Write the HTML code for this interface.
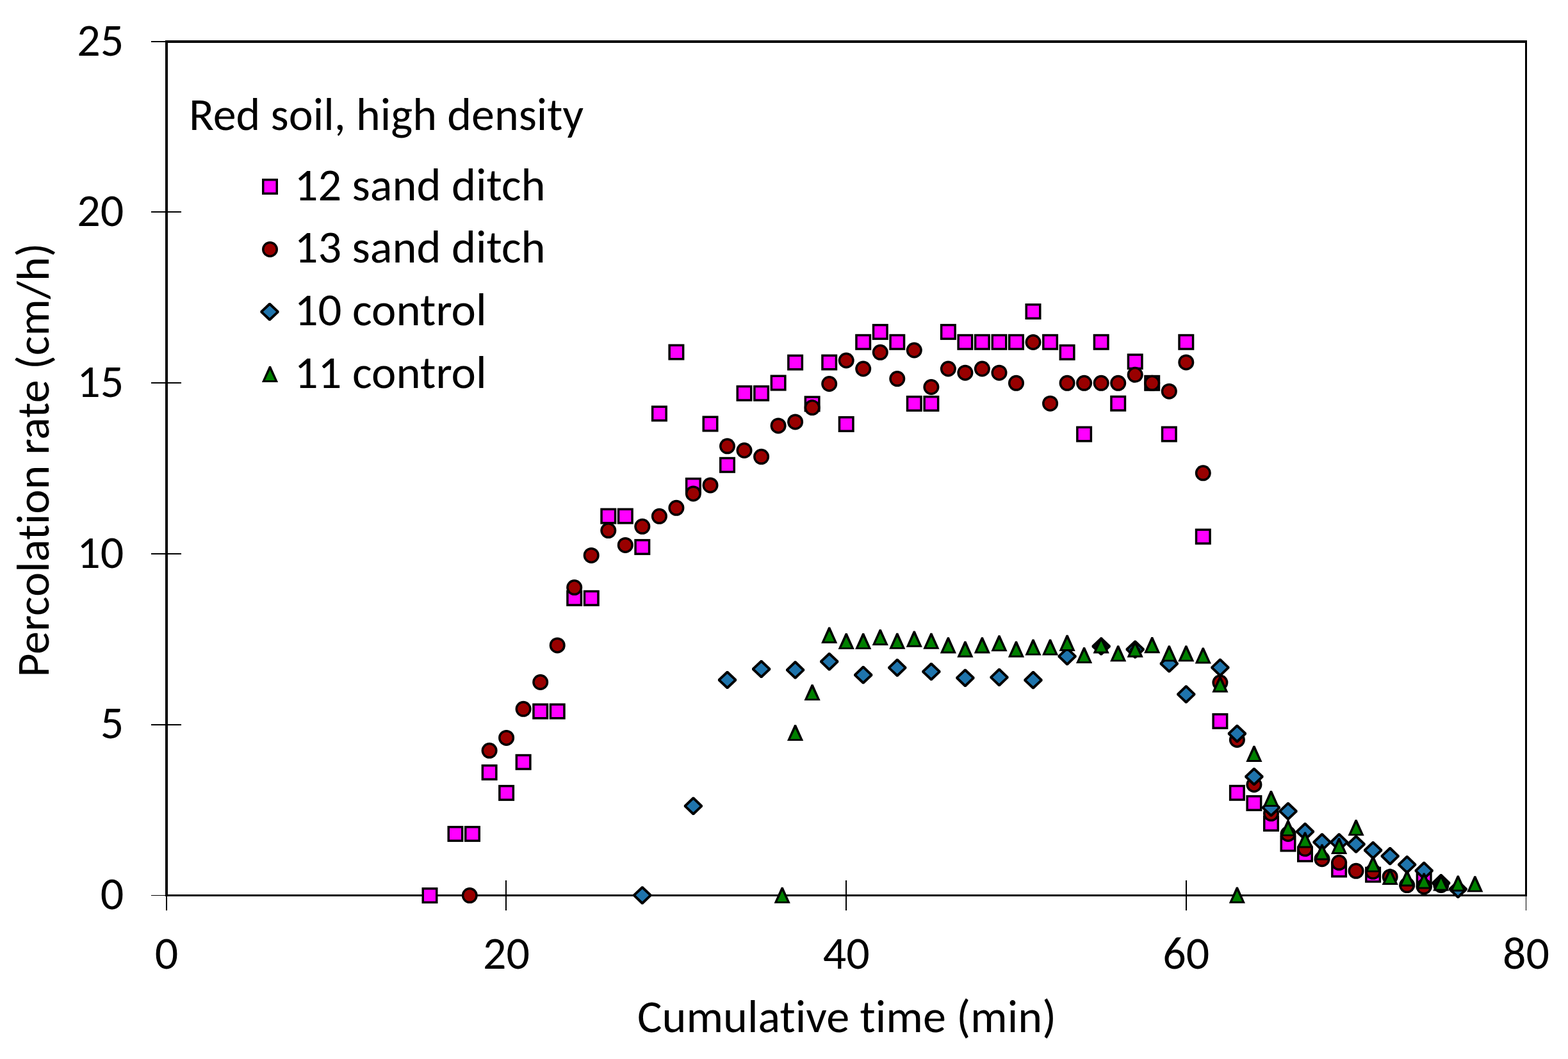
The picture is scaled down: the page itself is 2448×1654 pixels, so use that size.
<!DOCTYPE html>
<html><head><meta charset="utf-8"><title>Percolation rate chart</title>
<style>html,body{margin:0;padding:0;background:#fff;overflow:hidden;}svg{display:block;}
text{font-family:Carlito, 'Liberation Sans', sans-serif;fill:#000;font-variant-ligatures:none;font-feature-settings:"liga" 0,"clig" 0;font-kerning:normal;font-size-adjust:0.4775;}</style></head><body>
<svg width="2448" height="1654" viewBox="0 0 2448 1654">
<rect x="0" y="0" width="2448" height="1654" fill="#fff"/>
<g shape-rendering="crispEdges">
<rect x="258" y="63" width="2126" height="4" fill="#000"/>
<rect x="258" y="63" width="4" height="1337" fill="#000"/>
<rect x="2381" y="63" width="3" height="1337" fill="#000"/>
<rect x="258" y="1397" width="2126" height="3" fill="#000"/>
<rect x="236" y="64" width="47" height="2" fill="#000"/>
<rect x="236" y="330" width="47" height="2" fill="#000"/>
<rect x="236" y="597" width="47" height="2" fill="#000"/>
<rect x="236" y="864" width="47" height="2" fill="#000"/>
<rect x="236" y="1131" width="47" height="2" fill="#000"/>
<rect x="236" y="1398" width="47" height="1" fill="#000"/>
<rect x="259" y="1375" width="2" height="47" fill="#000"/>
<rect x="789" y="1375" width="2" height="47" fill="#000"/>
<rect x="1320" y="1375" width="2" height="47" fill="#000"/>
<rect x="1851" y="1375" width="2" height="47" fill="#000"/>
<rect x="2382" y="1375" width="1" height="47" fill="#000"/>
</g>
<text id="legtitle" x="294.90" y="202.90" font-size="72" textLength="616.16" lengthAdjust="spacingAndGlyphs">Red soil, high density</text>
<text id="l12" x="459.76" y="312.80" font-size="72" textLength="391.89" lengthAdjust="spacingAndGlyphs">12 sand ditch</text>
<text id="l13" x="459.76" y="410.10" font-size="72" textLength="391.89" lengthAdjust="spacingAndGlyphs">13 sand ditch</text>
<text id="l10" x="459.72" y="507.80" font-size="72" textLength="299.96" lengthAdjust="spacingAndGlyphs">10 control</text>
<text id="l11" x="459.72" y="605.80" font-size="72" textLength="299.96" lengthAdjust="spacingAndGlyphs">11 control</text>
<text id="xtitle" x="994.99" y="1612.20" font-size="72" textLength="654.15" lengthAdjust="spacingAndGlyphs">Cumulative time (min)</text>
<text id="ytitle" transform="translate(75.90,1057.82) rotate(-90)" x="0" y="0" font-size="72" textLength="678.55" lengthAdjust="spacingAndGlyphs">Percolation rate (cm/h)</text>
<text id="y0" x="193.20" y="1420.10" font-size="72" text-anchor="end" textLength="36.49" lengthAdjust="spacingAndGlyphs">0</text>
<text id="y5" x="193.20" y="1153.40" font-size="72" text-anchor="end" textLength="36.49" lengthAdjust="spacingAndGlyphs">5</text>
<text id="y10" x="193.20" y="886.70" font-size="72" text-anchor="end" textLength="72.98" lengthAdjust="spacingAndGlyphs">10</text>
<text id="y15" x="193.20" y="620.00" font-size="72" text-anchor="end" textLength="72.98" lengthAdjust="spacingAndGlyphs">15</text>
<text id="y20" x="193.20" y="353.30" font-size="72" text-anchor="end" textLength="72.98" lengthAdjust="spacingAndGlyphs">20</text>
<text id="y25" x="193.20" y="86.60" font-size="72" text-anchor="end" textLength="72.98" lengthAdjust="spacingAndGlyphs">25</text>
<text id="x0" x="260.00" y="1513.30" font-size="72" text-anchor="middle" textLength="36.49" lengthAdjust="spacingAndGlyphs">0</text>
<text id="x20" x="790.60" y="1513.30" font-size="72" text-anchor="middle" textLength="72.98" lengthAdjust="spacingAndGlyphs">20</text>
<text id="x40" x="1321.20" y="1513.30" font-size="72" text-anchor="middle" textLength="72.98" lengthAdjust="spacingAndGlyphs">40</text>
<text id="x60" x="1851.80" y="1513.30" font-size="72" text-anchor="middle" textLength="72.98" lengthAdjust="spacingAndGlyphs">60</text>
<text id="x80" x="2382.40" y="1513.30" font-size="72" text-anchor="middle" textLength="72.98" lengthAdjust="spacingAndGlyphs">80</text>
<rect x="409.0" y="279.0" width="25" height="25" fill="#000"/><rect x="412.5" y="282.5" width="18" height="18" fill="#ff00ff"/>
<circle cx="421.5" cy="389.5" r="12.5" fill="#000"/><circle cx="421.5" cy="389.5" r="9" fill="#990000"/>
<path d="M419.8 472.9L422.2 472.9L435.6 485.8L435.6 488.2L422.2 501.1L419.8 501.1L406.4 488.2L406.4 485.8Z" fill="#000"/><path d="M421.0 477.4L431.2 487.0L421.0 496.6L410.8 487.0Z" fill="#1f74ac"/>
<path d="M420.1 571.9L422.9 571.9L434.1 597.0L408.9 597.0Z" fill="#000"/><path d="M421.5 577.8L429.2 594.1L413.8 594.1Z" fill="#008000"/>
<rect x="658.5" y="1386.1" width="25" height="25" fill="#000"/><rect x="662.0" y="1389.6" width="18" height="18" fill="#ff00ff"/>
<rect x="698.5" y="1289.9" width="25" height="25" fill="#000"/><rect x="702.0" y="1293.4" width="18" height="18" fill="#ff00ff"/>
<rect x="725.0" y="1289.9" width="25" height="25" fill="#000"/><rect x="728.5" y="1293.4" width="18" height="18" fill="#ff00ff"/>
<rect x="751.6" y="1193.9" width="25" height="25" fill="#000"/><rect x="755.1" y="1197.4" width="18" height="18" fill="#ff00ff"/>
<rect x="778.1" y="1225.9" width="25" height="25" fill="#000"/><rect x="781.6" y="1229.4" width="18" height="18" fill="#ff00ff"/>
<rect x="804.6" y="1177.8" width="25" height="25" fill="#000"/><rect x="808.1" y="1181.3" width="18" height="18" fill="#ff00ff"/>
<rect x="831.2" y="1098.5" width="25" height="25" fill="#000"/><rect x="834.7" y="1102.0" width="18" height="18" fill="#ff00ff"/>
<rect x="857.7" y="1098.5" width="25" height="25" fill="#000"/><rect x="861.2" y="1102.0" width="18" height="18" fill="#ff00ff"/>
<rect x="884.2" y="921.8" width="25" height="25" fill="#000"/><rect x="887.7" y="925.3" width="18" height="18" fill="#ff00ff"/>
<rect x="910.8" y="921.8" width="25" height="25" fill="#000"/><rect x="914.2" y="925.3" width="18" height="18" fill="#ff00ff"/>
<rect x="937.3" y="793.6" width="25" height="25" fill="#000"/><rect x="940.8" y="797.1" width="18" height="18" fill="#ff00ff"/>
<rect x="963.8" y="793.6" width="25" height="25" fill="#000"/><rect x="967.3" y="797.1" width="18" height="18" fill="#ff00ff"/>
<rect x="990.3" y="841.9" width="25" height="25" fill="#000"/><rect x="993.8" y="845.4" width="18" height="18" fill="#ff00ff"/>
<rect x="1016.9" y="633.5" width="25" height="25" fill="#000"/><rect x="1020.4" y="637.0" width="18" height="18" fill="#ff00ff"/>
<rect x="1043.4" y="537.5" width="25" height="25" fill="#000"/><rect x="1046.9" y="541.0" width="18" height="18" fill="#ff00ff"/>
<rect x="1069.9" y="745.9" width="25" height="25" fill="#000"/><rect x="1073.4" y="749.4" width="18" height="18" fill="#ff00ff"/>
<rect x="1096.5" y="649.5" width="25" height="25" fill="#000"/><rect x="1100.0" y="653.0" width="18" height="18" fill="#ff00ff"/>
<rect x="1123.0" y="713.8" width="25" height="25" fill="#000"/><rect x="1126.5" y="717.3" width="18" height="18" fill="#ff00ff"/>
<rect x="1149.5" y="601.8" width="25" height="25" fill="#000"/><rect x="1153.0" y="605.3" width="18" height="18" fill="#ff00ff"/>
<rect x="1176.1" y="601.8" width="25" height="25" fill="#000"/><rect x="1179.6" y="605.3" width="18" height="18" fill="#ff00ff"/>
<rect x="1202.6" y="585.5" width="25" height="25" fill="#000"/><rect x="1206.1" y="589.0" width="18" height="18" fill="#ff00ff"/>
<rect x="1229.1" y="553.6" width="25" height="25" fill="#000"/><rect x="1232.6" y="557.1" width="18" height="18" fill="#ff00ff"/>
<rect x="1255.6" y="618.3" width="25" height="25" fill="#000"/><rect x="1259.1" y="621.8" width="18" height="18" fill="#ff00ff"/>
<rect x="1282.2" y="553.5" width="25" height="25" fill="#000"/><rect x="1285.7" y="557.0" width="18" height="18" fill="#ff00ff"/>
<rect x="1308.7" y="650.0" width="25" height="25" fill="#000"/><rect x="1312.2" y="653.5" width="18" height="18" fill="#ff00ff"/>
<rect x="1335.2" y="521.8" width="25" height="25" fill="#000"/><rect x="1338.7" y="525.3" width="18" height="18" fill="#ff00ff"/>
<rect x="1361.8" y="505.9" width="25" height="25" fill="#000"/><rect x="1365.3" y="509.4" width="18" height="18" fill="#ff00ff"/>
<rect x="1388.3" y="521.8" width="25" height="25" fill="#000"/><rect x="1391.8" y="525.3" width="18" height="18" fill="#ff00ff"/>
<rect x="1414.8" y="617.9" width="25" height="25" fill="#000"/><rect x="1418.3" y="621.4" width="18" height="18" fill="#ff00ff"/>
<rect x="1441.4" y="617.9" width="25" height="25" fill="#000"/><rect x="1444.9" y="621.4" width="18" height="18" fill="#ff00ff"/>
<rect x="1467.9" y="505.9" width="25" height="25" fill="#000"/><rect x="1471.4" y="509.4" width="18" height="18" fill="#ff00ff"/>
<rect x="1494.4" y="521.8" width="25" height="25" fill="#000"/><rect x="1497.9" y="525.3" width="18" height="18" fill="#ff00ff"/>
<rect x="1520.9" y="521.8" width="25" height="25" fill="#000"/><rect x="1524.4" y="525.3" width="18" height="18" fill="#ff00ff"/>
<rect x="1547.5" y="521.8" width="25" height="25" fill="#000"/><rect x="1551.0" y="525.3" width="18" height="18" fill="#ff00ff"/>
<rect x="1574.0" y="521.8" width="25" height="25" fill="#000"/><rect x="1577.5" y="525.3" width="18" height="18" fill="#ff00ff"/>
<rect x="1600.5" y="474.0" width="25" height="25" fill="#000"/><rect x="1604.0" y="477.5" width="18" height="18" fill="#ff00ff"/>
<rect x="1627.1" y="521.8" width="25" height="25" fill="#000"/><rect x="1630.6" y="525.3" width="18" height="18" fill="#ff00ff"/>
<rect x="1653.6" y="537.8" width="25" height="25" fill="#000"/><rect x="1657.1" y="541.3" width="18" height="18" fill="#ff00ff"/>
<rect x="1680.1" y="665.6" width="25" height="25" fill="#000"/><rect x="1683.6" y="669.1" width="18" height="18" fill="#ff00ff"/>
<rect x="1706.7" y="521.8" width="25" height="25" fill="#000"/><rect x="1710.2" y="525.3" width="18" height="18" fill="#ff00ff"/>
<rect x="1733.2" y="617.7" width="25" height="25" fill="#000"/><rect x="1736.7" y="621.2" width="18" height="18" fill="#ff00ff"/>
<rect x="1759.7" y="552.3" width="25" height="25" fill="#000"/><rect x="1763.2" y="555.8" width="18" height="18" fill="#ff00ff"/>
<rect x="1786.2" y="585.8" width="25" height="25" fill="#000"/><rect x="1789.7" y="589.3" width="18" height="18" fill="#ff00ff"/>
<rect x="1812.8" y="665.6" width="25" height="25" fill="#000"/><rect x="1816.3" y="669.1" width="18" height="18" fill="#ff00ff"/>
<rect x="1839.3" y="521.8" width="25" height="25" fill="#000"/><rect x="1842.8" y="525.3" width="18" height="18" fill="#ff00ff"/>
<rect x="1865.8" y="825.6" width="25" height="25" fill="#000"/><rect x="1869.3" y="829.1" width="18" height="18" fill="#ff00ff"/>
<rect x="1892.4" y="1113.9" width="25" height="25" fill="#000"/><rect x="1895.9" y="1117.4" width="18" height="18" fill="#ff00ff"/>
<rect x="1918.9" y="1225.8" width="25" height="25" fill="#000"/><rect x="1922.4" y="1229.3" width="18" height="18" fill="#ff00ff"/>
<rect x="1945.4" y="1241.9" width="25" height="25" fill="#000"/><rect x="1948.9" y="1245.4" width="18" height="18" fill="#ff00ff"/>
<rect x="1972.0" y="1273.8" width="25" height="25" fill="#000"/><rect x="1975.5" y="1277.3" width="18" height="18" fill="#ff00ff"/>
<rect x="1998.5" y="1305.5" width="25" height="25" fill="#000"/><rect x="2002.0" y="1309.0" width="18" height="18" fill="#ff00ff"/>
<rect x="2025.0" y="1321.7" width="25" height="25" fill="#000"/><rect x="2028.5" y="1325.2" width="18" height="18" fill="#ff00ff"/>
<rect x="2078.1" y="1345.6" width="25" height="25" fill="#000"/><rect x="2081.6" y="1349.1" width="18" height="18" fill="#ff00ff"/>
<rect x="2131.1" y="1353.7" width="25" height="25" fill="#000"/><rect x="2134.6" y="1357.2" width="18" height="18" fill="#ff00ff"/>
<rect x="2210.7" y="1361.7" width="25" height="25" fill="#000"/><rect x="2214.2" y="1365.2" width="18" height="18" fill="#ff00ff"/>
<circle cx="733.3" cy="1398.6" r="12.5" fill="#000"/><circle cx="733.3" cy="1398.6" r="9" fill="#990000"/>
<circle cx="764.1" cy="1172.3" r="12.5" fill="#000"/><circle cx="764.1" cy="1172.3" r="9" fill="#990000"/>
<circle cx="790.6" cy="1152.4" r="12.5" fill="#000"/><circle cx="790.6" cy="1152.4" r="9" fill="#990000"/>
<circle cx="817.1" cy="1107.3" r="12.5" fill="#000"/><circle cx="817.1" cy="1107.3" r="9" fill="#990000"/>
<circle cx="843.7" cy="1065.5" r="12.5" fill="#000"/><circle cx="843.7" cy="1065.5" r="9" fill="#990000"/>
<circle cx="870.2" cy="1007.9" r="12.5" fill="#000"/><circle cx="870.2" cy="1007.9" r="9" fill="#990000"/>
<circle cx="896.7" cy="917.6" r="12.5" fill="#000"/><circle cx="896.7" cy="917.6" r="9" fill="#990000"/>
<circle cx="923.2" cy="867.4" r="12.5" fill="#000"/><circle cx="923.2" cy="867.4" r="9" fill="#990000"/>
<circle cx="949.8" cy="828.6" r="12.5" fill="#000"/><circle cx="949.8" cy="828.6" r="9" fill="#990000"/>
<circle cx="976.3" cy="851.4" r="12.5" fill="#000"/><circle cx="976.3" cy="851.4" r="9" fill="#990000"/>
<circle cx="1002.8" cy="822.3" r="12.5" fill="#000"/><circle cx="1002.8" cy="822.3" r="9" fill="#990000"/>
<circle cx="1029.4" cy="806.3" r="12.5" fill="#000"/><circle cx="1029.4" cy="806.3" r="9" fill="#990000"/>
<circle cx="1055.9" cy="793.3" r="12.5" fill="#000"/><circle cx="1055.9" cy="793.3" r="9" fill="#990000"/>
<circle cx="1082.4" cy="770.9" r="12.5" fill="#000"/><circle cx="1082.4" cy="770.9" r="9" fill="#990000"/>
<circle cx="1109.0" cy="757.9" r="12.5" fill="#000"/><circle cx="1109.0" cy="757.9" r="9" fill="#990000"/>
<circle cx="1135.5" cy="696.8" r="12.5" fill="#000"/><circle cx="1135.5" cy="696.8" r="9" fill="#990000"/>
<circle cx="1162.0" cy="703.5" r="12.5" fill="#000"/><circle cx="1162.0" cy="703.5" r="9" fill="#990000"/>
<circle cx="1188.6" cy="713.3" r="12.5" fill="#000"/><circle cx="1188.6" cy="713.3" r="9" fill="#990000"/>
<circle cx="1215.1" cy="664.9" r="12.5" fill="#000"/><circle cx="1215.1" cy="664.9" r="9" fill="#990000"/>
<circle cx="1241.6" cy="658.9" r="12.5" fill="#000"/><circle cx="1241.6" cy="658.9" r="9" fill="#990000"/>
<circle cx="1268.1" cy="636.6" r="12.5" fill="#000"/><circle cx="1268.1" cy="636.6" r="9" fill="#990000"/>
<circle cx="1294.7" cy="599.5" r="12.5" fill="#000"/><circle cx="1294.7" cy="599.5" r="9" fill="#990000"/>
<circle cx="1321.2" cy="563.0" r="12.5" fill="#000"/><circle cx="1321.2" cy="563.0" r="9" fill="#990000"/>
<circle cx="1347.7" cy="576.0" r="12.5" fill="#000"/><circle cx="1347.7" cy="576.0" r="9" fill="#990000"/>
<circle cx="1374.3" cy="550.3" r="12.5" fill="#000"/><circle cx="1374.3" cy="550.3" r="9" fill="#990000"/>
<circle cx="1400.8" cy="591.6" r="12.5" fill="#000"/><circle cx="1400.8" cy="591.6" r="9" fill="#990000"/>
<circle cx="1427.3" cy="547.0" r="12.5" fill="#000"/><circle cx="1427.3" cy="547.0" r="9" fill="#990000"/>
<circle cx="1453.9" cy="604.5" r="12.5" fill="#000"/><circle cx="1453.9" cy="604.5" r="9" fill="#990000"/>
<circle cx="1480.4" cy="576.0" r="12.5" fill="#000"/><circle cx="1480.4" cy="576.0" r="9" fill="#990000"/>
<circle cx="1506.9" cy="582.2" r="12.5" fill="#000"/><circle cx="1506.9" cy="582.2" r="9" fill="#990000"/>
<circle cx="1533.4" cy="576.0" r="12.5" fill="#000"/><circle cx="1533.4" cy="576.0" r="9" fill="#990000"/>
<circle cx="1560.0" cy="582.2" r="12.5" fill="#000"/><circle cx="1560.0" cy="582.2" r="9" fill="#990000"/>
<circle cx="1586.5" cy="598.3" r="12.5" fill="#000"/><circle cx="1586.5" cy="598.3" r="9" fill="#990000"/>
<circle cx="1613.0" cy="534.5" r="12.5" fill="#000"/><circle cx="1613.0" cy="534.5" r="9" fill="#990000"/>
<circle cx="1639.6" cy="630.2" r="12.5" fill="#000"/><circle cx="1639.6" cy="630.2" r="9" fill="#990000"/>
<circle cx="1666.1" cy="598.3" r="12.5" fill="#000"/><circle cx="1666.1" cy="598.3" r="9" fill="#990000"/>
<circle cx="1692.6" cy="598.3" r="12.5" fill="#000"/><circle cx="1692.6" cy="598.3" r="9" fill="#990000"/>
<circle cx="1719.2" cy="598.3" r="12.5" fill="#000"/><circle cx="1719.2" cy="598.3" r="9" fill="#990000"/>
<circle cx="1745.7" cy="598.3" r="12.5" fill="#000"/><circle cx="1745.7" cy="598.3" r="9" fill="#990000"/>
<circle cx="1772.2" cy="585.3" r="12.5" fill="#000"/><circle cx="1772.2" cy="585.3" r="9" fill="#990000"/>
<circle cx="1798.7" cy="598.3" r="12.5" fill="#000"/><circle cx="1798.7" cy="598.3" r="9" fill="#990000"/>
<circle cx="1825.3" cy="611.2" r="12.5" fill="#000"/><circle cx="1825.3" cy="611.2" r="9" fill="#990000"/>
<circle cx="1851.8" cy="565.9" r="12.5" fill="#000"/><circle cx="1851.8" cy="565.9" r="9" fill="#990000"/>
<circle cx="1878.3" cy="738.8" r="12.5" fill="#000"/><circle cx="1878.3" cy="738.8" r="9" fill="#990000"/>
<circle cx="1904.9" cy="1066.0" r="12.5" fill="#000"/><circle cx="1904.9" cy="1066.0" r="9" fill="#990000"/>
<circle cx="1931.4" cy="1155.5" r="12.5" fill="#000"/><circle cx="1931.4" cy="1155.5" r="9" fill="#990000"/>
<circle cx="1957.9" cy="1225.5" r="12.5" fill="#000"/><circle cx="1957.9" cy="1225.5" r="9" fill="#990000"/>
<circle cx="1984.5" cy="1270.6" r="12.5" fill="#000"/><circle cx="1984.5" cy="1270.6" r="9" fill="#990000"/>
<circle cx="2011.0" cy="1302.5" r="12.5" fill="#000"/><circle cx="2011.0" cy="1302.5" r="9" fill="#990000"/>
<circle cx="2037.5" cy="1325.6" r="12.5" fill="#000"/><circle cx="2037.5" cy="1325.6" r="9" fill="#990000"/>
<circle cx="2064.0" cy="1341.7" r="12.5" fill="#000"/><circle cx="2064.0" cy="1341.7" r="9" fill="#990000"/>
<circle cx="2090.6" cy="1347.3" r="12.5" fill="#000"/><circle cx="2090.6" cy="1347.3" r="9" fill="#990000"/>
<circle cx="2117.1" cy="1360.3" r="12.5" fill="#000"/><circle cx="2117.1" cy="1360.3" r="9" fill="#990000"/>
<circle cx="2143.6" cy="1361.3" r="12.5" fill="#000"/><circle cx="2143.6" cy="1361.3" r="9" fill="#990000"/>
<circle cx="2170.2" cy="1369.4" r="12.5" fill="#000"/><circle cx="2170.2" cy="1369.4" r="9" fill="#990000"/>
<circle cx="2196.7" cy="1382.6" r="12.5" fill="#000"/><circle cx="2196.7" cy="1382.6" r="9" fill="#990000"/>
<circle cx="2223.2" cy="1384.8" r="12.5" fill="#000"/><circle cx="2223.2" cy="1384.8" r="9" fill="#990000"/>
<circle cx="2249.8" cy="1382.5" r="12.5" fill="#000"/><circle cx="2249.8" cy="1382.5" r="9" fill="#990000"/>
<path d="M1001.6 1384.2L1004.0 1384.2L1017.4 1397.1L1017.4 1399.5L1004.0 1412.4L1001.6 1412.4L988.2 1399.5L988.2 1397.1Z" fill="#000"/><path d="M1002.8 1388.7L1013.0 1398.3L1002.8 1407.9L992.6 1398.3Z" fill="#1f74ac"/>
<path d="M1081.2 1244.8L1083.6 1244.8L1097.0 1257.7L1097.0 1260.1L1083.6 1273.0L1081.2 1273.0L1067.8 1260.1L1067.8 1257.7Z" fill="#000"/><path d="M1082.4 1249.3L1092.6 1258.9L1082.4 1268.5L1072.2 1258.9Z" fill="#1f74ac"/>
<path d="M1134.3 1047.9L1136.7 1047.9L1150.1 1060.8L1150.1 1063.2L1136.7 1076.1L1134.3 1076.1L1120.9 1063.2L1120.9 1060.8Z" fill="#000"/><path d="M1135.5 1052.4L1145.7 1062.0L1135.5 1071.6L1125.3 1062.0Z" fill="#1f74ac"/>
<path d="M1187.4 1030.9L1189.8 1030.9L1203.2 1043.8L1203.2 1046.2L1189.8 1059.1L1187.4 1059.1L1174.0 1046.2L1174.0 1043.8Z" fill="#000"/><path d="M1188.6 1035.4L1198.8 1045.0L1188.6 1054.6L1178.4 1045.0Z" fill="#1f74ac"/>
<path d="M1240.4 1032.3L1242.8 1032.3L1256.2 1045.2L1256.2 1047.6L1242.8 1060.5L1240.4 1060.5L1227.0 1047.6L1227.0 1045.2Z" fill="#000"/><path d="M1241.6 1036.8L1251.8 1046.4L1241.6 1056.0L1231.4 1046.4Z" fill="#1f74ac"/>
<path d="M1293.5 1019.2L1295.9 1019.2L1309.3 1032.1L1309.3 1034.5L1295.9 1047.4L1293.5 1047.4L1280.1 1034.5L1280.1 1032.1Z" fill="#000"/><path d="M1294.7 1023.7L1304.9 1033.3L1294.7 1042.9L1284.5 1033.3Z" fill="#1f74ac"/>
<path d="M1346.5 1040.1L1348.9 1040.1L1362.3 1053.0L1362.3 1055.4L1348.9 1068.3L1346.5 1068.3L1333.1 1055.4L1333.1 1053.0Z" fill="#000"/><path d="M1347.7 1044.6L1357.9 1054.2L1347.7 1063.8L1337.5 1054.2Z" fill="#1f74ac"/>
<path d="M1399.6 1028.8L1402.0 1028.8L1415.4 1041.7L1415.4 1044.1L1402.0 1057.0L1399.6 1057.0L1386.2 1044.1L1386.2 1041.7Z" fill="#000"/><path d="M1400.8 1033.3L1411.0 1042.9L1400.8 1052.5L1390.6 1042.9Z" fill="#1f74ac"/>
<path d="M1452.7 1034.9L1455.1 1034.9L1468.5 1047.8L1468.5 1050.2L1455.1 1063.1L1452.7 1063.1L1439.3 1050.2L1439.3 1047.8Z" fill="#000"/><path d="M1453.9 1039.4L1464.1 1049.0L1453.9 1058.6L1443.7 1049.0Z" fill="#1f74ac"/>
<path d="M1505.7 1044.7L1508.1 1044.7L1521.5 1057.6L1521.5 1060.0L1508.1 1072.9L1505.7 1072.9L1492.3 1060.0L1492.3 1057.6Z" fill="#000"/><path d="M1506.9 1049.2L1517.1 1058.8L1506.9 1068.4L1496.7 1058.8Z" fill="#1f74ac"/>
<path d="M1558.8 1043.8L1561.2 1043.8L1574.6 1056.7L1574.6 1059.1L1561.2 1072.0L1558.8 1072.0L1545.4 1059.1L1545.4 1056.7Z" fill="#000"/><path d="M1560.0 1048.3L1570.2 1057.9L1560.0 1067.5L1549.8 1057.9Z" fill="#1f74ac"/>
<path d="M1611.8 1048.1L1614.2 1048.1L1627.6 1061.0L1627.6 1063.4L1614.2 1076.3L1611.8 1076.3L1598.4 1063.4L1598.4 1061.0Z" fill="#000"/><path d="M1613.0 1052.6L1623.2 1062.2L1613.0 1071.8L1602.8 1062.2Z" fill="#1f74ac"/>
<path d="M1664.9 1011.0L1667.3 1011.0L1680.7 1023.9L1680.7 1026.3L1667.3 1039.2L1664.9 1039.2L1651.5 1026.3L1651.5 1023.9Z" fill="#000"/><path d="M1666.1 1015.5L1676.3 1025.1L1666.1 1034.7L1655.9 1025.1Z" fill="#1f74ac"/>
<path d="M1718.0 995.4L1720.4 995.4L1733.8 1008.3L1733.8 1010.7L1720.4 1023.6L1718.0 1023.6L1704.6 1010.7L1704.6 1008.3Z" fill="#000"/><path d="M1719.2 999.9L1729.4 1009.5L1719.2 1019.1L1709.0 1009.5Z" fill="#1f74ac"/>
<path d="M1719.2 999.8L1729.5 1009.5L1719.2 1019.2L1708.9 1009.5Z" fill="#000"/>
<path d="M1771.0 1000.2L1773.4 1000.2L1786.8 1013.1L1786.8 1015.5L1773.4 1028.4L1771.0 1028.4L1757.6 1015.5L1757.6 1013.1Z" fill="#000"/><path d="M1772.2 1004.7L1782.4 1014.3L1772.2 1023.9L1762.0 1014.3Z" fill="#1f74ac"/>
<path d="M1772.2 1005.9L1781.2 1014.3L1772.2 1022.7L1763.2 1014.3Z" fill="#000"/>
<path d="M1824.1 1022.4L1826.5 1022.4L1839.9 1035.3L1839.9 1037.7L1826.5 1050.6L1824.1 1050.6L1810.7 1037.7L1810.7 1035.3Z" fill="#000"/><path d="M1825.3 1026.9L1835.5 1036.5L1825.3 1046.1L1815.1 1036.5Z" fill="#1f74ac"/>
<path d="M1850.6 1070.3L1853.0 1070.3L1866.4 1083.2L1866.4 1085.6L1853.0 1098.5L1850.6 1098.5L1837.2 1085.6L1837.2 1083.2Z" fill="#000"/><path d="M1851.8 1074.8L1862.0 1084.4L1851.8 1094.0L1841.6 1084.4Z" fill="#1f74ac"/>
<path d="M1903.7 1028.5L1906.1 1028.5L1919.5 1041.4L1919.5 1043.8L1906.1 1056.7L1903.7 1056.7L1890.3 1043.8L1890.3 1041.4Z" fill="#000"/><path d="M1904.9 1033.0L1915.1 1042.6L1904.9 1052.2L1894.7 1042.6Z" fill="#1f74ac"/>
<path d="M1930.2 1131.7L1932.6 1131.7L1946.0 1144.6L1946.0 1147.0L1932.6 1159.9L1930.2 1159.9L1916.8 1147.0L1916.8 1144.6Z" fill="#000"/><path d="M1931.4 1136.2L1941.6 1145.8L1931.4 1155.4L1921.2 1145.8Z" fill="#1f74ac"/>
<path d="M1956.7 1198.9L1959.1 1198.9L1972.5 1211.8L1972.5 1214.2L1959.1 1227.1L1956.7 1227.1L1943.3 1214.2L1943.3 1211.8Z" fill="#000"/><path d="M1957.9 1203.4L1968.1 1213.0L1957.9 1222.6L1947.7 1213.0Z" fill="#1f74ac"/>
<path d="M1983.2 1247.3L1985.7 1247.3L1999.0 1260.2L1999.0 1262.6L1985.7 1275.5L1983.2 1275.5L1969.9 1262.6L1969.9 1260.2Z" fill="#000"/><path d="M1984.5 1251.8L1994.7 1261.4L1984.5 1271.0L1974.2 1261.4Z" fill="#1f74ac"/>
<path d="M2009.8 1252.9L2012.2 1252.9L2025.6 1265.8L2025.6 1268.2L2012.2 1281.1L2009.8 1281.1L1996.4 1268.2L1996.4 1265.8Z" fill="#000"/><path d="M2011.0 1257.4L2021.2 1267.0L2011.0 1276.6L2000.8 1267.0Z" fill="#1f74ac"/>
<path d="M2036.3 1284.8L2038.7 1284.8L2052.1 1297.7L2052.1 1300.1L2038.7 1313.0L2036.3 1313.0L2022.9 1300.1L2022.9 1297.7Z" fill="#000"/><path d="M2037.5 1289.3L2047.7 1298.9L2037.5 1308.5L2027.3 1298.9Z" fill="#1f74ac"/>
<path d="M2062.8 1301.3L2065.2 1301.3L2078.6 1314.2L2078.6 1316.6L2065.2 1329.5L2062.8 1329.5L2049.4 1316.6L2049.4 1314.2Z" fill="#000"/><path d="M2064.0 1305.8L2074.2 1315.4L2064.0 1325.0L2053.8 1315.4Z" fill="#1f74ac"/>
<path d="M2089.4 1301.3L2091.8 1301.3L2105.2 1314.2L2105.2 1316.6L2091.8 1329.5L2089.4 1329.5L2076.0 1316.6L2076.0 1314.2Z" fill="#000"/><path d="M2090.6 1305.8L2100.8 1315.4L2090.6 1325.0L2080.4 1315.4Z" fill="#1f74ac"/>
<path d="M2115.9 1304.4L2118.3 1304.4L2131.7 1317.3L2131.7 1319.7L2118.3 1332.6L2115.9 1332.6L2102.5 1319.7L2102.5 1317.3Z" fill="#000"/><path d="M2117.1 1308.9L2127.3 1318.5L2117.1 1328.1L2106.9 1318.5Z" fill="#1f74ac"/>
<path d="M2142.4 1313.9L2144.8 1313.9L2158.2 1326.8L2158.2 1329.2L2144.8 1342.1L2142.4 1342.1L2129.0 1329.2L2129.0 1326.8Z" fill="#000"/><path d="M2143.6 1318.4L2153.8 1328.0L2143.6 1337.6L2133.4 1328.0Z" fill="#1f74ac"/>
<path d="M2169.0 1323.0L2171.4 1323.0L2184.8 1335.9L2184.8 1338.3L2171.4 1351.2L2169.0 1351.2L2155.6 1338.3L2155.6 1335.9Z" fill="#000"/><path d="M2170.2 1327.5L2180.4 1337.1L2170.2 1346.7L2160.0 1337.1Z" fill="#1f74ac"/>
<path d="M2195.5 1336.3L2197.9 1336.3L2211.3 1349.2L2211.3 1351.6L2197.9 1364.5L2195.5 1364.5L2182.1 1351.6L2182.1 1349.2Z" fill="#000"/><path d="M2196.7 1340.8L2206.9 1350.4L2196.7 1360.0L2186.5 1350.4Z" fill="#1f74ac"/>
<path d="M2222.0 1345.8L2224.4 1345.8L2237.8 1358.7L2237.8 1361.1L2224.4 1374.0L2222.0 1374.0L2208.6 1361.1L2208.6 1358.7Z" fill="#000"/><path d="M2223.2 1350.3L2233.4 1359.9L2223.2 1369.5L2213.0 1359.9Z" fill="#1f74ac"/>
<path d="M2248.6 1365.1L2250.9 1365.1L2264.3 1378.0L2264.3 1380.4L2250.9 1393.3L2248.6 1393.3L2235.2 1380.4L2235.2 1378.0Z" fill="#000"/><path d="M2249.8 1369.6L2259.9 1379.2L2249.8 1388.8L2239.6 1379.2Z" fill="#1f74ac"/>
<path d="M2249.8 1369.5L2260.1 1379.2L2249.8 1388.9L2239.4 1379.2Z" fill="#000"/>
<path d="M2275.1 1374.7L2277.5 1374.7L2290.9 1387.6L2290.9 1390.0L2277.5 1402.9L2275.1 1402.9L2261.7 1390.0L2261.7 1387.6Z" fill="#000"/><path d="M2276.3 1379.2L2286.5 1388.8L2276.3 1398.4L2266.1 1388.8Z" fill="#1f74ac"/>
<path d="M1219.8 1385.7L1222.6 1385.7L1233.8 1410.8L1208.6 1410.8Z" fill="#000"/><path d="M1221.2 1391.6L1228.9 1407.9L1213.5 1407.9Z" fill="#008000"/>
<path d="M1240.2 1132.0L1243.0 1132.0L1254.2 1157.1L1229.0 1157.1Z" fill="#000"/><path d="M1241.6 1137.9L1249.3 1154.2L1233.9 1154.2Z" fill="#008000"/>
<path d="M1266.7 1069.0L1269.5 1069.0L1280.7 1094.1L1255.5 1094.1Z" fill="#000"/><path d="M1268.1 1074.9L1275.8 1091.2L1260.4 1091.2Z" fill="#008000"/>
<path d="M1293.3 979.6L1296.1 979.6L1307.3 1004.7L1282.1 1004.7Z" fill="#000"/><path d="M1294.7 985.5L1302.4 1001.8L1287.0 1001.8Z" fill="#008000"/>
<path d="M1319.8 989.0L1322.6 989.0L1333.8 1014.1L1308.6 1014.1Z" fill="#000"/><path d="M1321.2 994.9L1328.9 1011.2L1313.5 1011.2Z" fill="#008000"/>
<path d="M1346.3 989.0L1349.1 989.0L1360.3 1014.1L1335.1 1014.1Z" fill="#000"/><path d="M1347.7 994.9L1355.4 1011.2L1340.0 1011.2Z" fill="#008000"/>
<path d="M1372.9 982.9L1375.7 982.9L1386.9 1008.0L1361.7 1008.0Z" fill="#000"/><path d="M1374.3 988.8L1382.0 1005.1L1366.6 1005.1Z" fill="#008000"/>
<path d="M1399.4 988.7L1402.2 988.7L1413.4 1013.8L1388.2 1013.8Z" fill="#000"/><path d="M1400.8 994.6L1408.5 1010.9L1393.1 1010.9Z" fill="#008000"/>
<path d="M1425.9 985.6L1428.7 985.6L1439.9 1010.7L1414.7 1010.7Z" fill="#000"/><path d="M1427.3 991.5L1435.0 1007.8L1419.6 1007.8Z" fill="#008000"/>
<path d="M1452.5 988.7L1455.3 988.7L1466.5 1013.8L1441.3 1013.8Z" fill="#000"/><path d="M1453.9 994.6L1461.6 1010.9L1446.2 1010.9Z" fill="#008000"/>
<path d="M1479.0 995.3L1481.8 995.3L1493.0 1020.4L1467.8 1020.4Z" fill="#000"/><path d="M1480.4 1001.2L1488.1 1017.5L1472.7 1017.5Z" fill="#008000"/>
<path d="M1505.5 1001.6L1508.3 1001.6L1519.5 1026.7L1494.3 1026.7Z" fill="#000"/><path d="M1506.9 1007.5L1514.6 1023.8L1499.2 1023.8Z" fill="#008000"/>
<path d="M1532.0 995.3L1534.8 995.3L1546.0 1020.4L1520.8 1020.4Z" fill="#000"/><path d="M1533.4 1001.2L1541.1 1017.5L1525.7 1017.5Z" fill="#008000"/>
<path d="M1558.6 992.2L1561.4 992.2L1572.6 1017.3L1547.4 1017.3Z" fill="#000"/><path d="M1560.0 998.1L1567.7 1014.4L1552.3 1014.4Z" fill="#008000"/>
<path d="M1585.1 1001.6L1587.9 1001.6L1599.1 1026.7L1573.9 1026.7Z" fill="#000"/><path d="M1586.5 1007.5L1594.2 1023.8L1578.8 1023.8Z" fill="#008000"/>
<path d="M1611.6 998.5L1614.4 998.5L1625.6 1023.6L1600.4 1023.6Z" fill="#000"/><path d="M1613.0 1004.4L1620.7 1020.7L1605.3 1020.7Z" fill="#008000"/>
<path d="M1638.2 998.5L1641.0 998.5L1652.2 1023.6L1627.0 1023.6Z" fill="#000"/><path d="M1639.6 1004.4L1647.3 1020.7L1631.9 1020.7Z" fill="#008000"/>
<path d="M1664.7 991.8L1667.5 991.8L1678.7 1016.9L1653.5 1016.9Z" fill="#000"/><path d="M1666.1 997.7L1673.8 1014.0L1658.4 1014.0Z" fill="#008000"/>
<path d="M1691.2 1010.9L1694.0 1010.9L1705.2 1036.0L1680.0 1036.0Z" fill="#000"/><path d="M1692.6 1016.8L1700.3 1033.1L1684.9 1033.1Z" fill="#008000"/>
<path d="M1717.8 995.4L1720.6 995.4L1731.8 1020.5L1706.6 1020.5Z" fill="#000"/><path d="M1719.2 1001.3L1726.9 1017.6L1711.5 1017.6Z" fill="#008000"/>
<path d="M1744.3 1008.2L1747.1 1008.2L1758.3 1033.3L1733.1 1033.3Z" fill="#000"/><path d="M1745.7 1014.1L1753.4 1030.4L1738.0 1030.4Z" fill="#008000"/>
<path d="M1770.8 1001.6L1773.6 1001.6L1784.8 1026.7L1759.6 1026.7Z" fill="#000"/><path d="M1772.2 1007.5L1779.9 1023.8L1764.5 1023.8Z" fill="#008000"/>
<path d="M1797.3 995.1L1800.1 995.1L1811.3 1020.2L1786.1 1020.2Z" fill="#000"/><path d="M1798.7 1001.0L1806.4 1017.3L1791.0 1017.3Z" fill="#008000"/>
<path d="M1823.9 1008.2L1826.7 1008.2L1837.9 1033.3L1812.7 1033.3Z" fill="#000"/><path d="M1825.3 1014.1L1833.0 1030.4L1817.6 1030.4Z" fill="#008000"/>
<path d="M1850.4 1008.2L1853.2 1008.2L1864.4 1033.3L1839.2 1033.3Z" fill="#000"/><path d="M1851.8 1014.1L1859.5 1030.4L1844.1 1030.4Z" fill="#008000"/>
<path d="M1876.9 1011.4L1879.7 1011.4L1890.9 1036.5L1865.7 1036.5Z" fill="#000"/><path d="M1878.3 1017.3L1886.0 1033.6L1870.6 1033.6Z" fill="#008000"/>
<path d="M1903.5 1056.4L1906.3 1056.4L1917.5 1081.5L1892.3 1081.5Z" fill="#000"/><path d="M1904.9 1062.3L1912.6 1078.6L1897.2 1078.6Z" fill="#008000"/>
<path d="M1930.0 1385.6L1932.8 1385.6L1944.0 1410.7L1918.8 1410.7Z" fill="#000"/><path d="M1931.4 1391.5L1939.1 1407.8L1923.7 1407.8Z" fill="#008000"/>
<path d="M1956.5 1164.8L1959.3 1164.8L1970.5 1189.9L1945.3 1189.9Z" fill="#000"/><path d="M1957.9 1170.7L1965.6 1187.0L1950.2 1187.0Z" fill="#008000"/>
<path d="M1983.0 1235.0L1985.9 1235.0L1997.0 1260.1L1971.9 1260.1Z" fill="#000"/><path d="M1984.5 1240.9L1992.2 1257.2L1976.8 1257.2Z" fill="#008000"/>
<path d="M2009.6 1281.0L2012.4 1281.0L2023.6 1306.1L1998.4 1306.1Z" fill="#000"/><path d="M2011.0 1286.9L2018.7 1303.2L2003.3 1303.2Z" fill="#008000"/>
<path d="M2036.1 1299.4L2038.9 1299.4L2050.1 1324.5L2024.9 1324.5Z" fill="#000"/><path d="M2037.5 1305.3L2045.2 1321.6L2029.8 1321.6Z" fill="#008000"/>
<path d="M2062.6 1318.4L2065.4 1318.4L2076.6 1343.5L2051.4 1343.5Z" fill="#000"/><path d="M2064.0 1324.3L2071.7 1340.6L2056.3 1340.6Z" fill="#008000"/>
<path d="M2089.2 1308.8L2092.0 1308.8L2103.2 1333.9L2078.0 1333.9Z" fill="#000"/><path d="M2090.6 1314.7L2098.3 1331.0L2082.9 1331.0Z" fill="#008000"/>
<path d="M2115.7 1280.2L2118.5 1280.2L2129.7 1305.3L2104.5 1305.3Z" fill="#000"/><path d="M2117.1 1286.1L2124.8 1302.4L2109.4 1302.4Z" fill="#008000"/>
<path d="M2142.2 1337.2L2145.0 1337.2L2156.2 1362.3L2131.0 1362.3Z" fill="#000"/><path d="M2143.6 1343.1L2151.3 1359.4L2135.9 1359.4Z" fill="#008000"/>
<path d="M2168.8 1356.8L2171.6 1356.8L2182.8 1381.9L2157.6 1381.9Z" fill="#000"/><path d="M2170.2 1362.7L2177.9 1379.0L2162.5 1379.0Z" fill="#008000"/>
<path d="M2195.3 1359.4L2198.1 1359.4L2209.3 1384.5L2184.1 1384.5Z" fill="#000"/><path d="M2196.7 1365.3L2204.4 1381.6L2189.0 1381.6Z" fill="#008000"/>
<path d="M2221.8 1363.4L2224.6 1363.4L2235.8 1388.5L2210.6 1388.5Z" fill="#000"/><path d="M2223.2 1369.3L2230.9 1385.6L2215.5 1385.6Z" fill="#008000"/>
<path d="M2248.3 1366.4L2251.2 1366.4L2262.3 1391.5L2237.2 1391.5Z" fill="#000"/><path d="M2249.8 1372.3L2257.4 1388.6L2242.1 1388.6Z" fill="#008000"/>
<path d="M2274.9 1367.4L2277.7 1367.4L2288.9 1392.5L2263.7 1392.5Z" fill="#000"/><path d="M2276.3 1373.3L2284.0 1389.6L2268.6 1389.6Z" fill="#008000"/>
<path d="M2301.4 1368.2L2304.2 1368.2L2315.4 1393.3L2290.2 1393.3Z" fill="#000"/><path d="M2302.8 1374.1L2310.5 1390.4L2295.1 1390.4Z" fill="#008000"/>
</svg></body></html>
